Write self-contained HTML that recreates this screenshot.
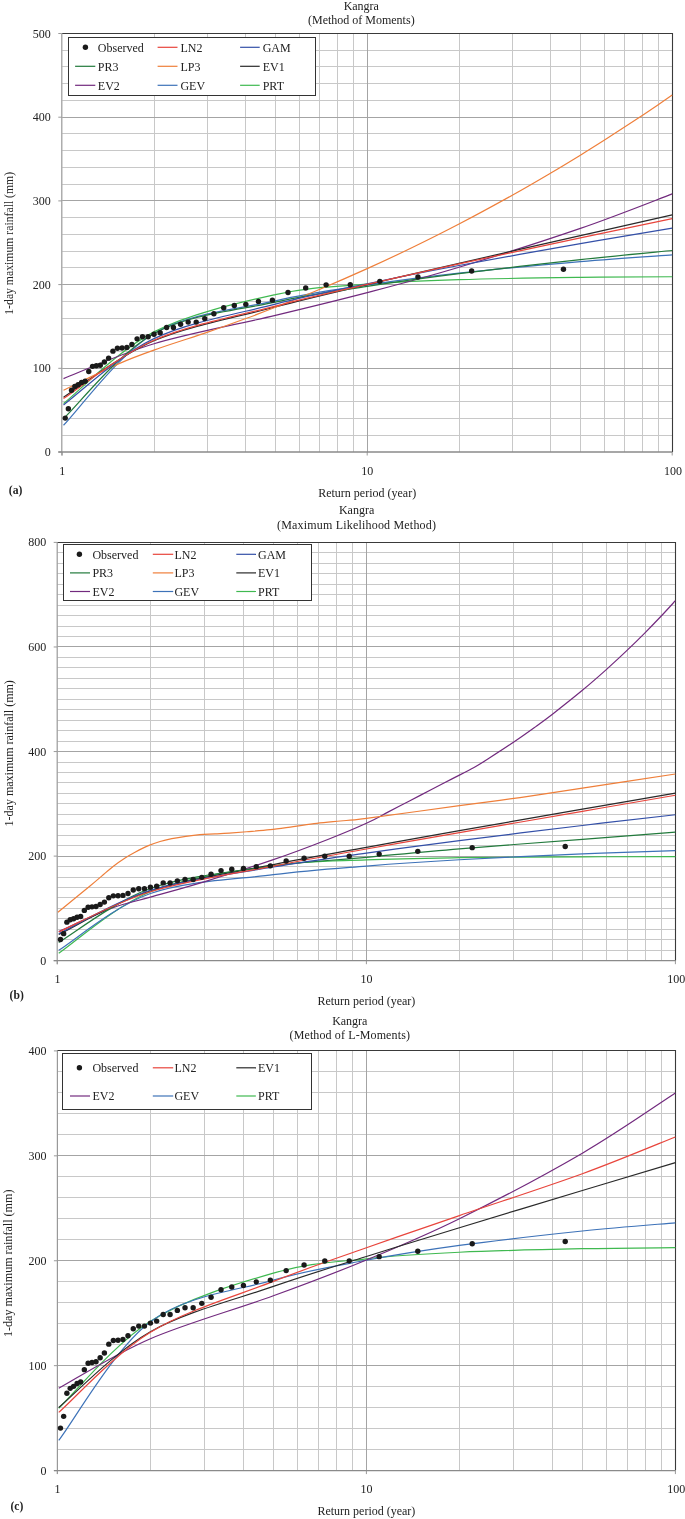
<!DOCTYPE html>
<html><head><meta charset="utf-8"><title>Kangra</title>
<style>html,body{margin:0;padding:0;background:#fff;}svg{display:block;}</style>
</head><body>
<svg width="685" height="1519" viewBox="0 0 685 1519" font-family='"Liberation Serif", "Times New Roman", serif'>
<rect width="685" height="1519" fill="#fff"/>
<path d="M62.2 435.5H672.2M62.2 418.5H672.2M62.2 401.5H672.2M62.2 385.5H672.2M62.2 351.5H672.2M62.2 334.5H672.2M62.2 318.5H672.2M62.2 301.5H672.2M62.2 267.5H672.2M62.2 251.5H672.2M62.2 234.5H672.2M62.2 217.5H672.2M62.2 184.5H672.2M62.2 167.5H672.2M62.2 150.5H672.2M62.2 133.5H672.2M62.2 100.5H672.2M62.2 83.5H672.2M62.2 66.5H672.2M62.2 50.5H672.2M154.5 33.5V452M207.5 33.5V452M245.5 33.5V452M275.5 33.5V452M299.5 33.5V452M319.5 33.5V452M337.5 33.5V452M353.5 33.5V452M459.5 33.5V452M512.5 33.5V452M550.5 33.5V452M580.5 33.5V452M604.5 33.5V452M624.5 33.5V452M642.5 33.5V452M658.5 33.5V452" stroke="#c8c8c8" stroke-width="1" fill="none"/>
<path d="M62.2 368.5H672.2M62.2 284.5H672.2M62.2 200.5H672.2M62.2 117.5H672.2M62.2 33.5H672.2M367.5 33.5V452" stroke="#a4a4a4" stroke-width="1" fill="none"/>
<path d="M62.2 33.5H672.5V452" stroke="#3a3a3a" stroke-width="1.1" fill="none"/>
<path d="M58.3 452H61.8M58.3 368.3H61.8M58.3 284.6H61.8M58.3 200.9H61.8M58.3 117.2H61.8M58.3 33.5H61.8M62.2 452V455.5M367.2 452V455.5M672.2 452V455.5" stroke="#9a9a9a" stroke-width="1" fill="none"/>
<path d="M61.8 33.5V455.5" stroke="#999" stroke-width="1.2" fill="none"/>
<path d="M58.3 452H672.2" stroke="#8a8a8a" stroke-width="1.3" fill="none"/>
<text x="50.8" y="456" font-size="12" text-anchor="end" fill="#222">0</text>
<text x="50.8" y="372.3" font-size="12" text-anchor="end" fill="#222">100</text>
<text x="50.8" y="288.6" font-size="12" text-anchor="end" fill="#222">200</text>
<text x="50.8" y="204.9" font-size="12" text-anchor="end" fill="#222">300</text>
<text x="50.8" y="121.2" font-size="12" text-anchor="end" fill="#222">400</text>
<text x="50.8" y="37.5" font-size="12" text-anchor="end" fill="#222">500</text>
<text x="62.2" y="474.8" font-size="12" text-anchor="middle" fill="#222">1</text>
<text x="367.2" y="474.8" font-size="12" text-anchor="middle" fill="#222">10</text>
<text x="673" y="474.8" font-size="12" text-anchor="middle" fill="#222">100</text>
<path d="M63.52 403.54 C78.6 391.6 118.7 350.02 154.01 331.86 C189.33 313.69 239.85 302.52 275.39 294.57 C310.92 286.62 336.6 286.64 367.2 284.16 C397.8 281.68 423.48 280.8 459.01 279.67 C494.55 278.54 544.85 277.87 580.39 277.38 C615.92 276.89 656.9 276.85 672.2 276.74" stroke="#3fb950" stroke-width="1.2" fill="none" stroke-linejoin="round"/>
<path d="M63.52 425.27 C78.6 409.98 118.7 354.28 154.01 333.54 C189.33 312.8 239.85 308.9 275.39 300.82 C310.92 292.74 336.6 289.65 367.2 285.05 C397.8 280.45 423.48 277.13 459.01 273.22 C494.55 269.31 544.85 264.62 580.39 261.58 C615.92 258.53 656.9 256.05 672.2 254.94" stroke="#3d72b8" stroke-width="1.2" fill="none" stroke-linejoin="round"/>
<path d="M63.52 378.62 C78.6 372.8 118.7 354.27 154.01 343.73 C189.33 333.19 239.85 323.9 275.39 315.38 C310.92 306.87 336.6 300.66 367.2 292.64 C397.8 284.63 423.48 277.99 459.01 267.28 C494.55 256.57 544.85 240.59 580.39 228.37 C615.92 216.14 656.9 199.66 672.2 193.92" stroke="#722a7e" stroke-width="1.2" fill="none" stroke-linejoin="round"/>
<path d="M63.52 397.15 C78.6 387.75 118.7 355.78 154.01 340.76 C189.33 325.74 239.85 316.38 275.39 307.04 C310.92 297.71 336.6 292.01 367.2 284.72 C397.8 277.43 423.48 271.5 459.01 263.31 C494.55 255.13 544.85 243.68 580.39 235.6 C615.92 227.52 656.9 218.29 672.2 214.83" stroke="#2a2a2a" stroke-width="1.2" fill="none" stroke-linejoin="round"/>
<path d="M63.52 390.23 C72.69 385.84 102.48 370.9 118.53 363.86 C134.59 356.83 144.98 353.31 159.84 348.03 C174.71 342.75 193.39 337.1 207.72 332.18 C222.05 327.27 234.55 322.69 245.83 318.54 C257.11 314.4 263.03 312.19 275.39 307.31 C287.74 302.43 304.65 295.72 319.95 289.27 C335.26 282.83 351.9 275.58 367.2 268.66 C382.5 261.74 396.47 255.2 411.77 247.76 C427.07 240.32 442.19 232.81 459.01 224.01 C475.84 215.21 497.42 203.47 512.72 194.96 C528.02 186.46 539.55 179.62 550.83 172.98 C562.11 166.35 571.43 160.63 580.39 155.14 C589.34 149.64 597.11 144.74 604.54 140.03 C611.96 135.31 618.6 131.01 624.95 126.87 C631.31 122.73 637.09 118.89 642.64 115.19 C648.19 111.5 653.32 108.03 658.24 104.67 C663.17 101.32 669.87 96.69 672.2 95.09" stroke="#ef7f3a" stroke-width="1.2" fill="none" stroke-linejoin="round"/>
<path d="M63.52 418.58 C78.6 404.39 118.7 352.83 154.01 333.41 C189.33 314 239.85 309.96 275.39 302.11 C310.92 294.27 336.6 291.09 367.2 286.35 C397.8 281.6 423.48 278.08 459.01 273.63 C494.55 269.18 544.85 263.5 580.39 259.65 C615.92 255.8 656.9 252.04 672.2 250.52" stroke="#227a3c" stroke-width="1.2" fill="none" stroke-linejoin="round"/>
<path d="M63.52 404.9 C78.6 393.85 118.7 355.38 154.01 338.59 C189.33 321.8 239.85 313.31 275.39 304.17 C310.92 295.02 336.6 290.16 367.2 283.72 C397.8 277.28 423.48 272.21 459.01 265.53 C494.55 258.84 544.85 249.83 580.39 243.59 C615.92 237.35 656.9 230.68 672.2 228.09" stroke="#3450a8" stroke-width="1.2" fill="none" stroke-linejoin="round"/>
<path d="M63.52 398.55 C78.6 388.83 118.7 355.64 154.01 340.23 C189.33 324.83 239.85 315.43 275.39 306.11 C310.92 296.79 336.6 291.35 367.2 284.32 C397.8 277.28 423.48 271.62 459.01 263.88 C494.55 256.14 544.85 245.43 580.39 237.88 C615.92 230.33 656.9 221.8 672.2 218.59" stroke="#e8453c" stroke-width="1.2" fill="none" stroke-linejoin="round"/>
<g fill="#1a1a1a"><circle cx="563.45" cy="269.2" r="2.7"/><circle cx="471.64" cy="271.04" r="2.7"/><circle cx="417.93" cy="276.98" r="2.7"/><circle cx="379.82" cy="281.34" r="2.7"/><circle cx="350.27" cy="284.68" r="2.7"/><circle cx="326.12" cy="284.85" r="2.7"/><circle cx="305.7" cy="288.03" r="2.7"/><circle cx="288.01" cy="292.47" r="2.7"/><circle cx="272.41" cy="300.17" r="2.7"/><circle cx="258.45" cy="301.42" r="2.7"/><circle cx="245.83" cy="304.35" r="2.7"/><circle cx="234.3" cy="305.52" r="2.7"/><circle cx="223.7" cy="307.78" r="2.7"/><circle cx="213.88" cy="313.73" r="2.7"/><circle cx="204.75" cy="318.58" r="2.7"/><circle cx="196.2" cy="322.1" r="2.7"/><circle cx="188.17" cy="322.1" r="2.7"/><circle cx="180.59" cy="324.19" r="2.7"/><circle cx="173.43" cy="327.45" r="2.7"/><circle cx="166.64" cy="327.45" r="2.7"/><circle cx="160.18" cy="332.73" r="2.7"/><circle cx="154.01" cy="334.32" r="2.7"/><circle cx="148.13" cy="336.75" r="2.7"/><circle cx="142.49" cy="336.75" r="2.7"/><circle cx="137.08" cy="338.84" r="2.7"/><circle cx="131.89" cy="344.45" r="2.7"/><circle cx="126.89" cy="347.46" r="2.7"/><circle cx="122.07" cy="347.96" r="2.7"/><circle cx="117.42" cy="348.21" r="2.7"/><circle cx="112.93" cy="351.14" r="2.7"/><circle cx="108.59" cy="358.17" r="2.7"/><circle cx="104.38" cy="361.94" r="2.7"/><circle cx="100.31" cy="365.2" r="2.7"/><circle cx="96.35" cy="365.79" r="2.7"/><circle cx="92.51" cy="366.37" r="2.7"/><circle cx="88.78" cy="371.48" r="2.7"/><circle cx="85.15" cy="381.27" r="2.7"/><circle cx="81.62" cy="382.53" r="2.7"/><circle cx="78.18" cy="384.79" r="2.7"/><circle cx="74.82" cy="386.38" r="2.7"/><circle cx="71.55" cy="390.31" r="2.7"/><circle cx="68.36" cy="408.73" r="2.7"/><circle cx="65.25" cy="418.1" r="2.7"/></g>
<rect x="68.5" y="37.5" width="247" height="58" fill="#fff" stroke="#333" stroke-width="1"/>
<circle cx="85.4" cy="47.3" r="2.7" fill="#1a1a1a"/>
<text x="97.8" y="51.5" font-size="12" fill="#222">Observed</text>
<path d="M157.6 47.3H177.5" stroke="#e8453c" stroke-width="1.2"/>
<text x="180.4" y="51.5" font-size="12" fill="#222">LN2</text>
<path d="M240.1 47.3H259.7" stroke="#3450a8" stroke-width="1.2"/>
<text x="262.7" y="51.5" font-size="12" fill="#222">GAM</text>
<path d="M75.1 66.3H95.3" stroke="#227a3c" stroke-width="1.2"/>
<text x="97.8" y="70.5" font-size="12" fill="#222">PR3</text>
<path d="M157.6 66.3H177.5" stroke="#ef7f3a" stroke-width="1.2"/>
<text x="180.4" y="70.5" font-size="12" fill="#222">LP3</text>
<path d="M240.1 66.3H259.7" stroke="#2a2a2a" stroke-width="1.2"/>
<text x="262.7" y="70.5" font-size="12" fill="#222">EV1</text>
<path d="M75.1 85.3H95.3" stroke="#722a7e" stroke-width="1.2"/>
<text x="97.8" y="89.5" font-size="12" fill="#222">EV2</text>
<path d="M157.6 85.3H177.5" stroke="#3d72b8" stroke-width="1.2"/>
<text x="180.4" y="89.5" font-size="12" fill="#222">GEV</text>
<path d="M240.1 85.3H259.7" stroke="#3fb950" stroke-width="1.2"/>
<text x="262.7" y="89.5" font-size="12" fill="#222">PRT</text>
<text x="361.3" y="10.3" font-size="12" text-anchor="middle" fill="#222">Kangra</text>
<text x="361.3" y="23.6" font-size="12" letter-spacing="0" text-anchor="middle" fill="#222">(Method of Moments)</text>
<text x="367.2" y="497" font-size="12" text-anchor="middle" fill="#222">Return period (year)</text>
<text x="8.8" y="494.3" font-size="11.6" font-weight="bold" fill="#222">(a)</text>
<text transform="translate(13.2 243.3) rotate(-90)" x="0" y="0" font-size="11.73" text-anchor="middle" fill="#222">1-day maximum rainfall (mm)</text>
<path d="M57.4 950.5H675.4M57.4 939.5H675.4M57.4 929.5H675.4M57.4 918.5H675.4M57.4 908.5H675.4M57.4 897.5H675.4M57.4 887.5H675.4M57.4 877.5H675.4M57.4 866.5H675.4M57.4 845.5H675.4M57.4 835.5H675.4M57.4 824.5H675.4M57.4 814.5H675.4M57.4 803.5H675.4M57.4 793.5H675.4M57.4 782.5H675.4M57.4 772.5H675.4M57.4 762.5H675.4M57.4 741.5H675.4M57.4 730.5H675.4M57.4 720.5H675.4M57.4 709.5H675.4M57.4 699.5H675.4M57.4 688.5H675.4M57.4 678.5H675.4M57.4 667.5H675.4M57.4 657.5H675.4M57.4 636.5H675.4M57.4 626.5H675.4M57.4 615.5H675.4M57.4 605.5H675.4M57.4 594.5H675.4M57.4 584.5H675.4M57.4 573.5H675.4M57.4 563.5H675.4M57.4 552.5H675.4M150.5 542.4V960.7M204.5 542.4V960.7M243.5 542.4V960.7M273.5 542.4V960.7M297.5 542.4V960.7M318.5 542.4V960.7M336.5 542.4V960.7M352.5 542.4V960.7M459.5 542.4V960.7M513.5 542.4V960.7M552.5 542.4V960.7M582.5 542.4V960.7M606.5 542.4V960.7M627.5 542.4V960.7M645.5 542.4V960.7M661.5 542.4V960.7" stroke="#c8c8c8" stroke-width="1" fill="none"/>
<path d="M57.4 856.5H675.4M57.4 751.5H675.4M57.4 646.5H675.4M57.4 542.5H675.4M366.5 542.4V960.7" stroke="#a4a4a4" stroke-width="1" fill="none"/>
<path d="M57.4 542.5H675.5V960.7" stroke="#3a3a3a" stroke-width="1.1" fill="none"/>
<path d="M53.7 960.7H57.2M53.7 856.12H57.2M53.7 751.55H57.2M53.7 646.98H57.2M53.7 542.4H57.2M57.4 960.7V964.2M366.4 960.7V964.2M675.4 960.7V964.2" stroke="#9a9a9a" stroke-width="1" fill="none"/>
<path d="M57.2 542.4V964.2" stroke="#999" stroke-width="1.2" fill="none"/>
<path d="M53.7 960.7H675.4" stroke="#8a8a8a" stroke-width="1.3" fill="none"/>
<text x="46.2" y="964.7" font-size="12" text-anchor="end" fill="#222">0</text>
<text x="46.2" y="860.12" font-size="12" text-anchor="end" fill="#222">200</text>
<text x="46.2" y="755.55" font-size="12" text-anchor="end" fill="#222">400</text>
<text x="46.2" y="650.98" font-size="12" text-anchor="end" fill="#222">600</text>
<text x="46.2" y="546.4" font-size="12" text-anchor="end" fill="#222">800</text>
<text x="57.4" y="983" font-size="12" text-anchor="middle" fill="#222">1</text>
<text x="366.4" y="983" font-size="12" text-anchor="middle" fill="#222">10</text>
<text x="676.2" y="983" font-size="12" text-anchor="middle" fill="#222">100</text>
<path d="M58.74 953.24 C74.02 942.99 114.64 906.38 150.42 891.78 C186.19 877.18 237.38 870.97 273.38 865.64 C309.38 860.31 335.39 861.13 366.4 859.81 C397.41 858.48 423.42 858.2 459.42 857.71 C495.42 857.22 546.38 857.02 582.38 856.84 C618.38 856.66 659.9 856.68 675.4 856.64" stroke="#3fb950" stroke-width="1.2" fill="none" stroke-linejoin="round"/>
<path d="M58.74 950.32 C74.02 940.85 114.64 906.14 150.42 893.54 C186.19 880.94 237.38 879.31 273.38 874.72 C309.38 870.14 335.39 868.54 366.4 866.05 C397.41 863.56 423.42 861.8 459.42 859.76 C495.42 857.72 546.38 855.34 582.38 853.8 C618.38 852.26 659.9 851.08 675.4 850.53" stroke="#3d72b8" stroke-width="1.2" fill="none" stroke-linejoin="round"/>
<path d="M58.74 931.51 C67.58 927.61 96.53 913.84 111.81 908.13 C127.09 902.41 134.92 901.62 150.42 897.2 C165.92 892.78 184.34 887.85 204.83 881.6 C225.32 875.34 252.89 866.68 273.38 859.66 C293.88 852.64 312.29 845.55 327.79 839.48 C343.3 833.42 356.38 827.84 366.4 823.28 C376.42 818.72 380.75 815.84 387.93 812.12 C395.1 808.4 402.28 804.68 409.45 800.96 C416.63 797.24 423.8 793.52 430.98 789.8 C438.15 786.09 445.33 782.37 452.5 778.65 C459.68 774.93 467.88 770.93 474.03 767.49 C480.17 764.05 482.73 762.27 489.36 758.02 C496 753.76 506.3 747.07 513.83 741.98 C521.36 736.89 528.08 732.12 534.52 727.49 C540.95 722.85 544.46 720.38 552.44 714.18 C560.41 707.98 573.31 697.8 582.38 690.29 C591.45 682.78 599.32 675.84 606.85 669.11 C614.37 662.39 621.1 656.07 627.54 649.94 C633.97 643.81 639.83 638 645.45 632.34 C651.08 626.68 656.27 621.27 661.26 616 C666.25 610.73 673.04 603.26 675.4 600.71" stroke="#722a7e" stroke-width="1.2" fill="none" stroke-linejoin="round"/>
<path d="M58.74 934.5 C74.02 927.21 114.64 902.41 150.42 890.76 C186.19 879.11 237.38 871.85 273.38 864.61 C309.38 857.36 335.39 852.95 366.4 847.29 C397.41 841.64 423.42 837.03 459.42 830.68 C495.42 824.33 546.38 815.45 582.38 809.18 C618.38 802.92 659.9 795.76 675.4 793.07" stroke="#2a2a2a" stroke-width="1.2" fill="none" stroke-linejoin="round"/>
<path d="M57.94 912.28 C63.28 907.9 82.71 892.01 90 885.98 C97.29 879.95 97.79 879.39 101.69 876.1 C105.59 872.8 109.51 869.23 113.41 866.22 C117.31 863.2 121.49 860.34 125.09 858.01 C128.69 855.67 131.12 854.26 135.01 852.2 C138.89 850.15 144.21 847.45 148.39 845.67 C152.57 843.88 156.15 842.65 160.06 841.48 C163.97 840.32 167.54 839.52 171.83 838.66 C176.12 837.81 181.11 837.02 185.78 836.36 C190.45 835.7 194.99 835.09 199.86 834.69 C204.74 834.29 210.13 834.22 215.03 833.96 C219.94 833.69 224.01 833.48 229.3 833.12 C234.58 832.75 239.95 832.33 246.75 831.76 C253.55 831.18 262.36 830.53 270.12 829.67 C277.88 828.8 285.52 827.63 293.3 826.58 C301.08 825.54 308.97 824.33 316.8 823.39 C324.63 822.46 331.99 821.82 340.26 820.99 C348.53 820.15 346.54 820.93 366.4 818.37 C386.26 815.82 433.83 809.14 459.42 805.67 C485.01 802.2 499.46 800.49 519.95 797.56 C540.45 794.63 556.47 792.02 582.38 788.1 C608.29 784.18 659.9 776.38 675.4 774.03" stroke="#ef7f3a" stroke-width="1.2" fill="none" stroke-linejoin="round"/>
<path d="M58.74 942.4 C74.02 933.42 114.64 901.27 150.42 888.54 C186.19 875.82 237.38 871.25 273.38 866.06 C309.38 860.87 335.39 860.26 366.4 857.38 C397.41 854.5 423.42 851.8 459.42 848.8 C495.42 845.81 546.38 842.16 582.38 839.39 C618.38 836.62 659.9 833.38 675.4 832.18" stroke="#227a3c" stroke-width="1.2" fill="none" stroke-linejoin="round"/>
<path d="M58.74 933.74 C74.02 926.49 114.64 901.39 150.42 890.26 C186.19 879.14 237.38 873.2 273.38 867 C309.38 860.8 335.39 857.46 366.4 853.06 C397.41 848.65 423.42 845.18 459.42 840.58 C495.42 835.99 546.38 829.78 582.38 825.48 C618.38 821.18 659.9 816.56 675.4 814.77" stroke="#3450a8" stroke-width="1.2" fill="none" stroke-linejoin="round"/>
<path d="M58.74 932 C74.02 925.29 114.64 902.73 150.42 891.74 C186.19 880.75 237.38 873.17 273.38 866.05 C309.38 858.93 335.39 854.58 366.4 849.01 C397.41 843.45 423.42 838.93 459.42 832.66 C495.42 826.38 546.38 817.6 582.38 811.36 C618.38 805.13 659.9 797.92 675.4 795.24" stroke="#e8453c" stroke-width="1.2" fill="none" stroke-linejoin="round"/>
<g fill="#1a1a1a"><circle cx="565.23" cy="846.5" r="2.7"/><circle cx="472.21" cy="847.65" r="2.7"/><circle cx="417.8" cy="851.37" r="2.7"/><circle cx="379.19" cy="854.09" r="2.7"/><circle cx="349.25" cy="856.18" r="2.7"/><circle cx="324.78" cy="856.28" r="2.7"/><circle cx="304.09" cy="858.27" r="2.7"/><circle cx="286.17" cy="861.04" r="2.7"/><circle cx="270.37" cy="865.85" r="2.7"/><circle cx="256.23" cy="866.63" r="2.7"/><circle cx="243.44" cy="868.46" r="2.7"/><circle cx="231.76" cy="869.2" r="2.7"/><circle cx="221.02" cy="870.61" r="2.7"/><circle cx="211.07" cy="874.32" r="2.7"/><circle cx="201.81" cy="877.35" r="2.7"/><circle cx="193.15" cy="879.55" r="2.7"/><circle cx="185.02" cy="879.55" r="2.7"/><circle cx="177.35" cy="880.86" r="2.7"/><circle cx="170.09" cy="882.9" r="2.7"/><circle cx="163.21" cy="882.9" r="2.7"/><circle cx="156.66" cy="886.19" r="2.7"/><circle cx="150.42" cy="887.18" r="2.7"/><circle cx="144.45" cy="888.7" r="2.7"/><circle cx="138.74" cy="888.7" r="2.7"/><circle cx="133.26" cy="890.01" r="2.7"/><circle cx="128" cy="893.51" r="2.7"/><circle cx="122.94" cy="895.39" r="2.7"/><circle cx="118.06" cy="895.71" r="2.7"/><circle cx="113.35" cy="895.86" r="2.7"/><circle cx="108.8" cy="897.69" r="2.7"/><circle cx="104.4" cy="902.09" r="2.7"/><circle cx="100.14" cy="904.44" r="2.7"/><circle cx="96.01" cy="906.48" r="2.7"/><circle cx="92" cy="906.84" r="2.7"/><circle cx="88.11" cy="907.21" r="2.7"/><circle cx="84.33" cy="910.4" r="2.7"/><circle cx="80.65" cy="916.52" r="2.7"/><circle cx="77.07" cy="917.3" r="2.7"/><circle cx="73.59" cy="918.71" r="2.7"/><circle cx="70.19" cy="919.71" r="2.7"/><circle cx="66.88" cy="922.16" r="2.7"/><circle cx="63.64" cy="933.67" r="2.7"/><circle cx="60.49" cy="939.52" r="2.7"/></g>
<rect x="63.5" y="544.5" width="248" height="56" fill="#fff" stroke="#333" stroke-width="1"/>
<circle cx="79.4" cy="554.3" r="2.7" fill="#1a1a1a"/>
<text x="92.4" y="558.5" font-size="12" fill="#222">Observed</text>
<path d="M152.8 554.3H173.2" stroke="#e8453c" stroke-width="1.2"/>
<text x="174.4" y="558.5" font-size="12" fill="#222">LN2</text>
<path d="M236.3 554.3H256" stroke="#3450a8" stroke-width="1.2"/>
<text x="258" y="558.5" font-size="12" fill="#222">GAM</text>
<path d="M70 572.9H90" stroke="#227a3c" stroke-width="1.2"/>
<text x="92.4" y="577.1" font-size="12" fill="#222">PR3</text>
<path d="M152.8 572.9H173.2" stroke="#ef7f3a" stroke-width="1.2"/>
<text x="174.4" y="577.1" font-size="12" fill="#222">LP3</text>
<path d="M236.3 572.9H256" stroke="#2a2a2a" stroke-width="1.2"/>
<text x="258" y="577.1" font-size="12" fill="#222">EV1</text>
<path d="M70 591.5H90" stroke="#722a7e" stroke-width="1.2"/>
<text x="92.4" y="595.7" font-size="12" fill="#222">EV2</text>
<path d="M152.8 591.5H173.2" stroke="#3d72b8" stroke-width="1.2"/>
<text x="174.4" y="595.7" font-size="12" fill="#222">GEV</text>
<path d="M236.3 591.5H256" stroke="#3fb950" stroke-width="1.2"/>
<text x="258" y="595.7" font-size="12" fill="#222">PRT</text>
<text x="356.6" y="514" font-size="12" text-anchor="middle" fill="#222">Kangra</text>
<text x="356.6" y="528.5" font-size="12" letter-spacing="0.19" text-anchor="middle" fill="#222">(Maximum Likelihood Method)</text>
<text x="366.4" y="1005" font-size="12" text-anchor="middle" fill="#222">Return period (year)</text>
<text x="9.6" y="998.9" font-size="11.6" font-weight="bold" fill="#222">(b)</text>
<text transform="translate(13.2 753.3) rotate(-90)" x="0" y="0" font-size="12" text-anchor="middle" fill="#222">1-day maximum rainfall (mm)</text>
<path d="M57.4 1449.5H675.4M57.4 1428.5H675.4M57.4 1407.5H675.4M57.4 1386.5H675.4M57.4 1344.5H675.4M57.4 1323.5H675.4M57.4 1302.5H675.4M57.4 1281.5H675.4M57.4 1239.5H675.4M57.4 1218.5H675.4M57.4 1197.5H675.4M57.4 1176.5H675.4M57.4 1134.5H675.4M57.4 1113.5H675.4M57.4 1092.5H675.4M57.4 1071.5H675.4M150.5 1050.9V1470.6M204.5 1050.9V1470.6M243.5 1050.9V1470.6M273.5 1050.9V1470.6M297.5 1050.9V1470.6M318.5 1050.9V1470.6M336.5 1050.9V1470.6M352.5 1050.9V1470.6M459.5 1050.9V1470.6M513.5 1050.9V1470.6M552.5 1050.9V1470.6M582.5 1050.9V1470.6M606.5 1050.9V1470.6M627.5 1050.9V1470.6M645.5 1050.9V1470.6M661.5 1050.9V1470.6" stroke="#c8c8c8" stroke-width="1" fill="none"/>
<path d="M57.4 1365.5H675.4M57.4 1260.5H675.4M57.4 1155.5H675.4M57.4 1050.5H675.4M366.5 1050.9V1470.6" stroke="#a4a4a4" stroke-width="1" fill="none"/>
<path d="M57.4 1050.5H675.5V1470.6" stroke="#3a3a3a" stroke-width="1.1" fill="none"/>
<path d="M53.9 1470.6H57.4M53.9 1365.67H57.4M53.9 1260.75H57.4M53.9 1155.83H57.4M53.9 1050.9H57.4M57.4 1470.6V1474.1M366.4 1470.6V1474.1M675.4 1470.6V1474.1" stroke="#9a9a9a" stroke-width="1" fill="none"/>
<path d="M57.4 1050.9V1474.1" stroke="#999" stroke-width="1.2" fill="none"/>
<path d="M53.9 1470.6H675.4" stroke="#8a8a8a" stroke-width="1.3" fill="none"/>
<text x="46.4" y="1474.6" font-size="12" text-anchor="end" fill="#222">0</text>
<text x="46.4" y="1369.67" font-size="12" text-anchor="end" fill="#222">100</text>
<text x="46.4" y="1264.75" font-size="12" text-anchor="end" fill="#222">200</text>
<text x="46.4" y="1159.83" font-size="12" text-anchor="end" fill="#222">300</text>
<text x="46.4" y="1054.9" font-size="12" text-anchor="end" fill="#222">400</text>
<text x="57.4" y="1493" font-size="12" text-anchor="middle" fill="#222">1</text>
<text x="366.4" y="1493" font-size="12" text-anchor="middle" fill="#222">10</text>
<text x="676.2" y="1493" font-size="12" text-anchor="middle" fill="#222">100</text>
<path d="M58.74 1408.22 C74.02 1393.71 114.64 1343.7 150.42 1321.18 C186.19 1298.66 237.38 1283.51 273.38 1273.11 C309.38 1262.71 335.39 1262.25 366.4 1258.78 C397.41 1255.3 423.42 1253.93 459.42 1252.25 C495.42 1250.57 546.38 1249.48 582.38 1248.72 C618.38 1247.96 659.9 1247.84 675.4 1247.67" stroke="#3fb950" stroke-width="1.2" fill="none" stroke-linejoin="round"/>
<path d="M58.74 1440.38 C74.02 1420.62 114.64 1348.51 150.42 1321.81 C186.19 1295.1 237.38 1290.41 273.38 1280.15 C309.38 1269.89 335.39 1266.05 366.4 1260.27 C397.41 1254.48 423.42 1250.33 459.42 1245.45 C495.42 1240.57 546.38 1234.76 582.38 1230.99 C618.38 1227.22 659.9 1224.18 675.4 1222.81" stroke="#3d72b8" stroke-width="1.2" fill="none" stroke-linejoin="round"/>
<path d="M58.74 1388.25 C74.02 1379.99 114.64 1354.11 150.42 1338.71 C186.19 1323.3 237.38 1308.93 273.38 1295.81 C309.38 1282.69 335.39 1272.83 366.4 1259.99 C397.41 1247.14 423.42 1236.55 459.42 1218.75 C495.42 1200.94 546.38 1174.1 582.38 1153.15 C618.38 1132.19 659.9 1103.04 675.4 1093.01" stroke="#722a7e" stroke-width="1.2" fill="none" stroke-linejoin="round"/>
<path d="M58.74 1407.42 C74.02 1394.8 114.64 1351.87 150.42 1331.71 C186.19 1311.54 237.38 1298.98 273.38 1286.44 C309.38 1273.9 335.39 1266.26 366.4 1256.47 C397.41 1246.68 423.42 1238.72 459.42 1227.72 C495.42 1216.73 546.38 1201.36 582.38 1190.51 C618.38 1179.66 659.9 1167.27 675.4 1162.63" stroke="#2a2a2a" stroke-width="1.2" fill="none" stroke-linejoin="round"/>
<path d="M58.74 1412.38 C74.02 1399.02 114.64 1354.04 150.42 1332.21 C186.19 1310.38 237.38 1295.47 273.38 1281.4 C309.38 1267.33 335.39 1258.76 366.4 1247.79 C397.41 1236.83 423.42 1227.93 459.42 1215.59 C495.42 1203.25 546.38 1186.85 582.38 1173.74 C618.38 1160.63 659.9 1143.07 675.4 1136.94" stroke="#e8453c" stroke-width="1.2" fill="none" stroke-linejoin="round"/>
<g fill="#1a1a1a"><circle cx="565.23" cy="1241.44" r="2.7"/><circle cx="472.21" cy="1243.75" r="2.7"/><circle cx="417.8" cy="1251.2" r="2.7"/><circle cx="379.19" cy="1256.66" r="2.7"/><circle cx="349.25" cy="1260.85" r="2.7"/><circle cx="324.78" cy="1261.06" r="2.7"/><circle cx="304.09" cy="1265.05" r="2.7"/><circle cx="286.17" cy="1270.61" r="2.7"/><circle cx="270.37" cy="1280.27" r="2.7"/><circle cx="256.23" cy="1281.84" r="2.7"/><circle cx="243.44" cy="1285.51" r="2.7"/><circle cx="231.76" cy="1286.98" r="2.7"/><circle cx="221.02" cy="1289.81" r="2.7"/><circle cx="211.07" cy="1297.26" r="2.7"/><circle cx="201.81" cy="1303.35" r="2.7"/><circle cx="193.15" cy="1307.76" r="2.7"/><circle cx="185.02" cy="1307.76" r="2.7"/><circle cx="177.35" cy="1310.38" r="2.7"/><circle cx="170.09" cy="1314.47" r="2.7"/><circle cx="163.21" cy="1314.47" r="2.7"/><circle cx="156.66" cy="1321.08" r="2.7"/><circle cx="150.42" cy="1323.08" r="2.7"/><circle cx="144.45" cy="1326.12" r="2.7"/><circle cx="138.74" cy="1326.12" r="2.7"/><circle cx="133.26" cy="1328.74" r="2.7"/><circle cx="128" cy="1335.77" r="2.7"/><circle cx="122.94" cy="1339.55" r="2.7"/><circle cx="118.06" cy="1340.18" r="2.7"/><circle cx="113.35" cy="1340.49" r="2.7"/><circle cx="108.8" cy="1344.17" r="2.7"/><circle cx="104.4" cy="1352.98" r="2.7"/><circle cx="100.14" cy="1357.7" r="2.7"/><circle cx="96.01" cy="1361.79" r="2.7"/><circle cx="92" cy="1362.53" r="2.7"/><circle cx="88.11" cy="1363.26" r="2.7"/><circle cx="84.33" cy="1369.66" r="2.7"/><circle cx="80.65" cy="1381.94" r="2.7"/><circle cx="77.07" cy="1383.51" r="2.7"/><circle cx="73.59" cy="1386.35" r="2.7"/><circle cx="70.19" cy="1388.34" r="2.7"/><circle cx="66.88" cy="1393.27" r="2.7"/><circle cx="63.64" cy="1416.35" r="2.7"/><circle cx="60.49" cy="1428.11" r="2.7"/></g>
<rect x="62.5" y="1053.5" width="249" height="56" fill="#fff" stroke="#333" stroke-width="1"/>
<circle cx="79.4" cy="1067.8" r="2.7" fill="#1a1a1a"/>
<text x="92.4" y="1072" font-size="12" fill="#222">Observed</text>
<path d="M152.8 1067.8H173.2" stroke="#e8453c" stroke-width="1.2"/>
<text x="174.4" y="1072" font-size="12" fill="#222">LN2</text>
<path d="M236.3 1067.8H256" stroke="#2a2a2a" stroke-width="1.2"/>
<text x="258" y="1072" font-size="12" fill="#222">EV1</text>
<path d="M70 1096H90" stroke="#722a7e" stroke-width="1.2"/>
<text x="92.4" y="1100.2" font-size="12" fill="#222">EV2</text>
<path d="M152.8 1096H173.2" stroke="#3d72b8" stroke-width="1.2"/>
<text x="174.4" y="1100.2" font-size="12" fill="#222">GEV</text>
<path d="M236.3 1096H256" stroke="#3fb950" stroke-width="1.2"/>
<text x="258" y="1100.2" font-size="12" fill="#222">PRT</text>
<text x="349.8" y="1024.5" font-size="12" text-anchor="middle" fill="#222">Kangra</text>
<text x="349.8" y="1038.6" font-size="12" letter-spacing="0.12" text-anchor="middle" fill="#222">(Method of L-Moments)</text>
<text x="366.4" y="1515" font-size="12" text-anchor="middle" fill="#222">Return period (year)</text>
<text x="10.5" y="1510.3" font-size="11.6" font-weight="bold" fill="#222">(c)</text>
<text transform="translate(11.5 1263.3) rotate(-90)" x="0" y="0" font-size="12.1" text-anchor="middle" fill="#222">1-day maximum rainfall (mm)</text>
</svg>
</body></html>
